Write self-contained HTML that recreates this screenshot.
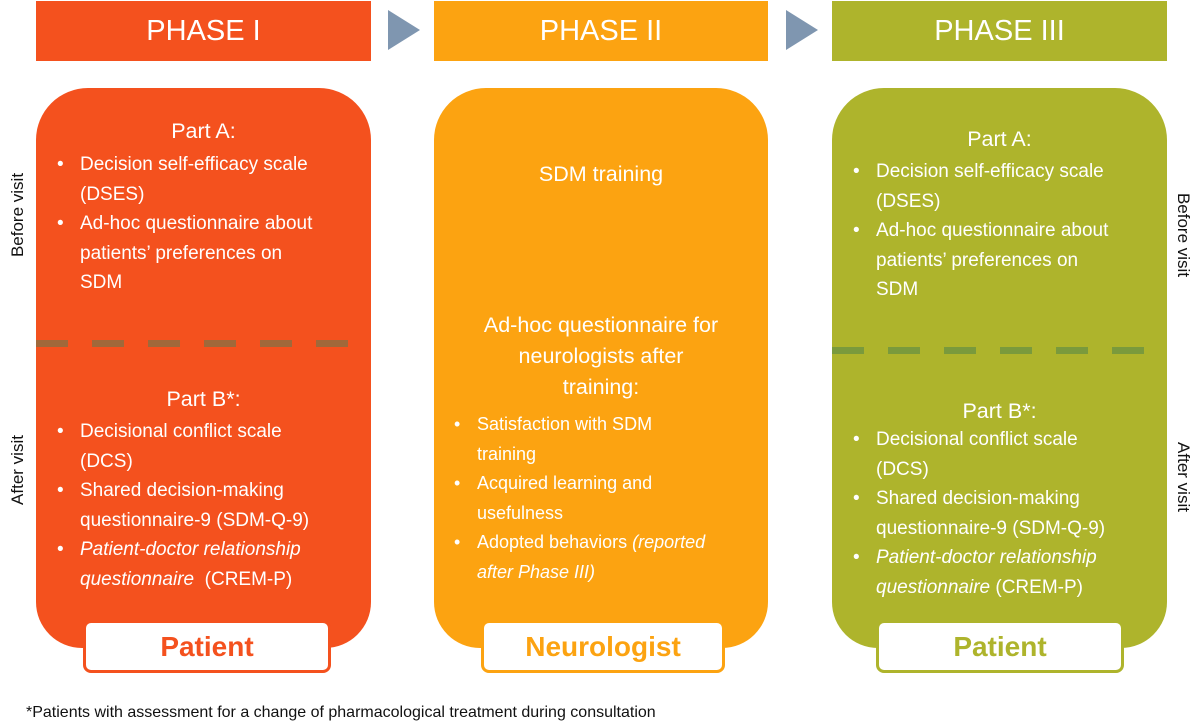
<!DOCTYPE html>
<html><head><meta charset="utf-8"><style>
body{margin:0;width:1200px;height:728px;background:#fff;position:relative;overflow:hidden;font-family:"Liberation Sans",sans-serif;}
.a{position:absolute;}
.hdr{position:absolute;top:1px;height:60px;color:#fff;font-size:29px;text-align:center;line-height:60px;}
.card{position:absolute;top:88px;height:560px;border-radius:52px 52px 46px 46px;}
.lbl{position:absolute;top:620px;height:47px;background:#fff;border:3px solid;border-radius:8px;text-align:center;font-weight:bold;font-size:28px;line-height:47px;}
.t{position:absolute;color:#fff;font-size:19px;line-height:29.5px;white-space:nowrap;}
.t .b{position:relative;}
.t .b:before{content:"•";position:absolute;left:-23px;}
.c{text-align:center;font-size:21.5px;}
.dash{position:absolute;height:7px;}
.side{position:absolute;font-size:17px;color:#111;white-space:nowrap;}
</style></head><body>
<div class="hdr" style="left:36px;width:335px;background:#F4511E;">PHASE I</div>
<div class="hdr" style="left:434px;width:334px;background:#FCA311;">PHASE II</div>
<div class="hdr" style="left:832px;width:335px;background:#AEB42C;">PHASE III</div>
<svg class="a" style="left:388px;top:10px" width="34" height="42"><polygon points="0,0 32,20 0,40" fill="#7F96B0"/></svg>
<svg class="a" style="left:786px;top:10px" width="34" height="42"><polygon points="0,0 32,20 0,40" fill="#7F96B0"/></svg>

<div class="card" style="left:36px;width:335px;background:#F4511E;"></div>
<div class="card" style="left:434px;width:334px;background:#FCA311;"></div>
<div class="card" style="left:832px;width:335px;background:#AEB42C;"></div>

<div class="dash" style="left:36px;top:340px;width:335px;background:repeating-linear-gradient(90deg,#A0683A 0 32px,transparent 32px 56px);"></div>
<div class="dash" style="left:832px;top:347px;width:335px;background:repeating-linear-gradient(90deg,#7A9A3C 0 32px,transparent 32px 56px);"></div>

<!-- Card 1 -->
<div class="t c" style="left:36px;width:335px;top:117px;">Part A:</div>
<div class="t" style="left:80px;top:150px;">
<span class="b">Decision self-efficacy scale</span><br>(DSES)<br><span class="b">Ad-hoc questionnaire about</span><br>patients’ preferences on<br>SDM</div>
<div class="t c" style="left:36px;width:335px;top:385px;">Part B*:</div>
<div class="t" style="left:80px;top:417px;">
<span class="b">Decisional conflict scale</span><br>(DCS)<br><span class="b">Shared decision-making</span><br>questionnaire-9 (SDM-Q-9)<br><span class="b"><i>Patient-doctor relationship</i></span><br><i>questionnaire</i>&nbsp; (CREM-P)</div>

<!-- Card 2 -->
<div class="t c" style="left:434px;width:334px;top:160px;">SDM training</div>
<div class="t c" style="left:434px;width:334px;top:310px;line-height:31px;">Ad-hoc questionnaire for<br>neurologists after<br>training:</div>
<div class="t" style="left:477px;top:410px;font-size:18px;">
<span class="b">Satisfaction with SDM</span><br>training<br><span class="b">Acquired learning and</span><br>usefulness<br><span class="b">Adopted behaviors <i>(reported</i></span><br><i>after Phase III)</i></div>

<!-- Card 3 -->
<div class="t c" style="left:832px;width:335px;top:125px;">Part A:</div>
<div class="t" style="left:876px;top:157px;">
<span class="b">Decision self-efficacy scale</span><br>(DSES)<br><span class="b">Ad-hoc questionnaire about</span><br>patients’ preferences on<br>SDM</div>
<div class="t c" style="left:832px;width:335px;top:397px;">Part B*:</div>
<div class="t" style="left:876px;top:425px;">
<span class="b">Decisional conflict scale</span><br>(DCS)<br><span class="b">Shared decision-making</span><br>questionnaire-9 (SDM-Q-9)<br><span class="b"><i>Patient-doctor relationship</i></span><br><i>questionnaire</i> (CREM-P)</div>

<div class="lbl" style="left:83px;width:242px;border-color:#F4511E;color:#F4511E;">Patient</div>
<div class="lbl" style="left:481px;width:238px;border-color:#FCA311;color:#FCA311;">Neurologist</div>
<div class="lbl" style="left:876px;width:242px;border-color:#AEB42C;color:#AEB42C;">Patient</div>

<div class="side" style="left:18px;top:215px;transform:translate(-50%,-50%) rotate(-90deg);">Before visit</div>
<div class="side" style="left:18px;top:470px;transform:translate(-50%,-50%) rotate(-90deg);">After visit</div>
<div class="side" style="left:1183px;top:235px;transform:translate(-50%,-50%) rotate(90deg);">Before visit</div>
<div class="side" style="left:1183px;top:477px;transform:translate(-50%,-50%) rotate(90deg);">After visit</div>

<div class="a" style="left:26px;top:704px;font-size:16px;color:#111;white-space:nowrap;">*Patients with assessment for a change of pharmacological treatment during consultation</div>
</body></html>
